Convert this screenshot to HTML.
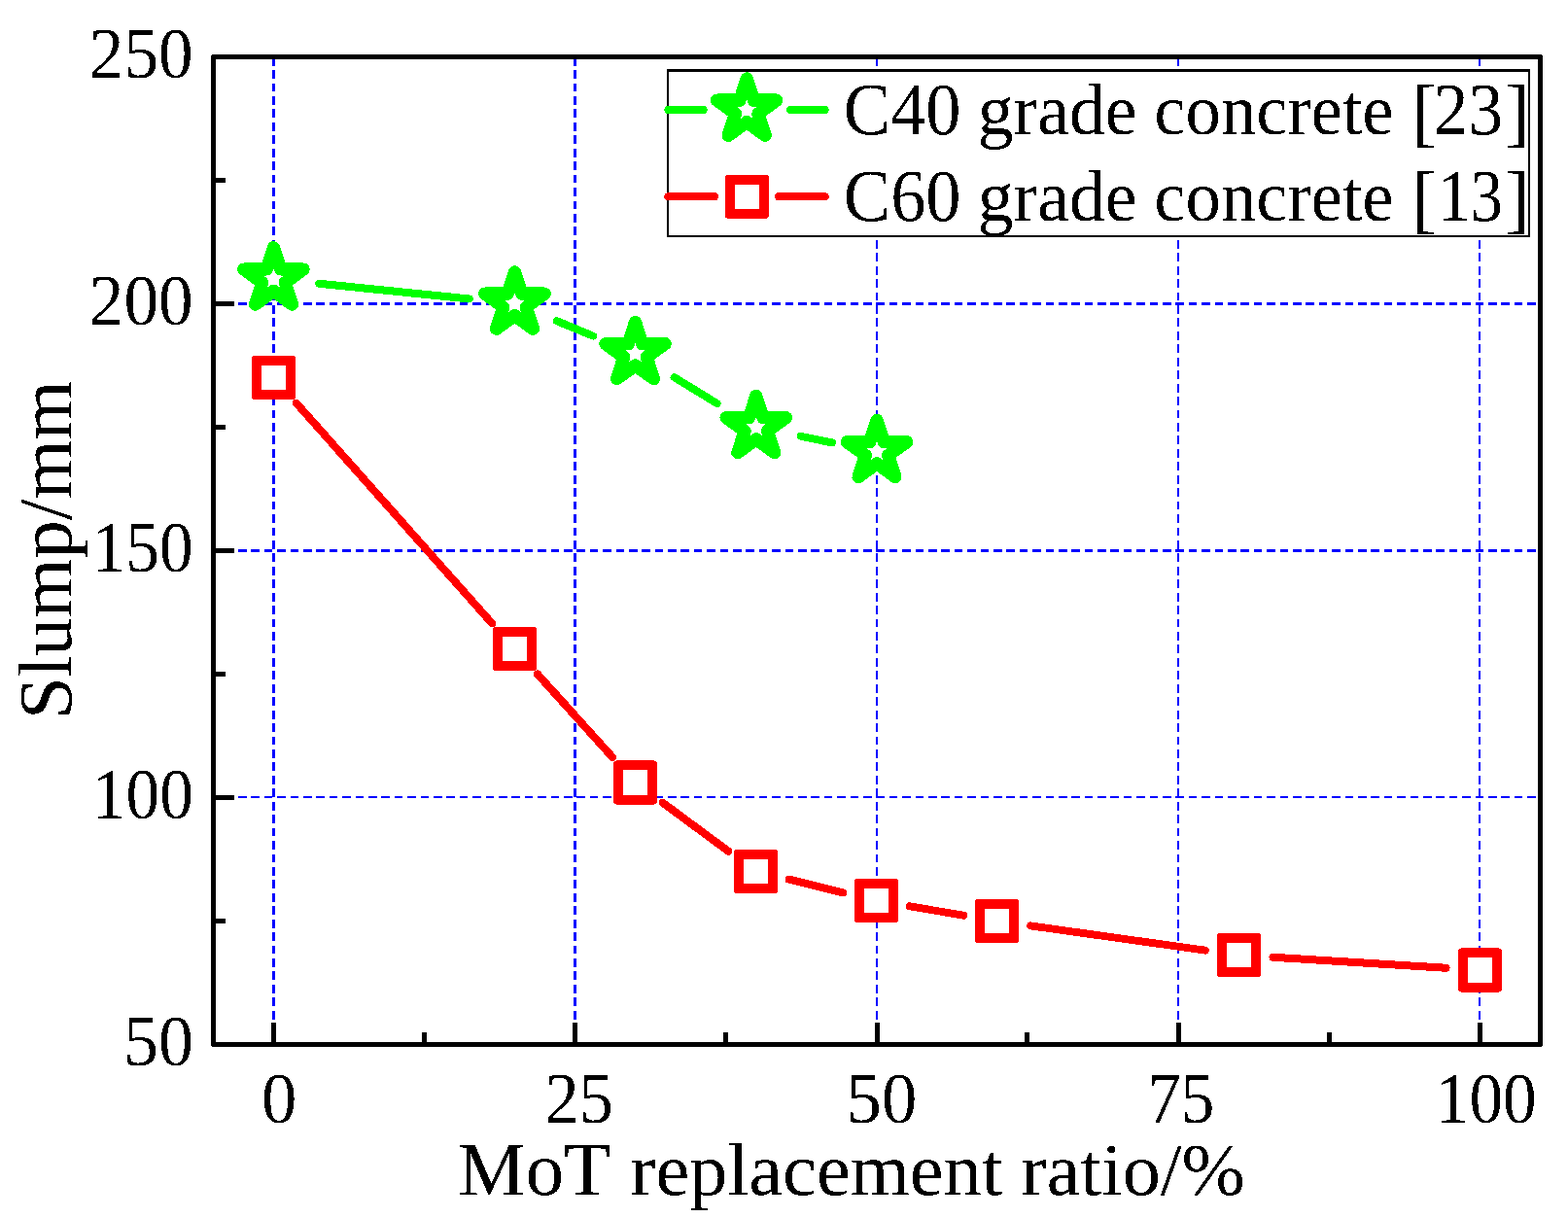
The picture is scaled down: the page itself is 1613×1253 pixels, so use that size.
<!DOCTYPE html><html><head><meta charset="utf-8"><title>Slump vs MoT replacement ratio</title><style>html,body{margin:0;padding:0;background:#fff;overflow:hidden;}svg{display:block;}text{font-family:"Liberation Serif","Times New Roman",serif;fill:#000;}</style></head><body>
<svg width="1613" height="1253" viewBox="0 0 1613 1253">
<defs><filter id="bin" filterUnits="userSpaceOnUse" x="0" y="0" width="1613" height="1253" color-interpolation-filters="sRGB"><feComponentTransfer><feFuncR type="discrete" tableValues="0 1"/><feFuncG type="discrete" tableValues="0 1"/><feFuncB type="discrete" tableValues="0 1"/></feComponentTransfer></filter></defs>
<g filter="url(#bin)">
<rect width="1613" height="1253" fill="#fff"/>
<g stroke="#0000ff" fill="none">
<line x1="281.5" y1="58.8" x2="281.5" y2="1074.5" stroke-width="3" stroke-dasharray="8.6 4.84"/>
<line x1="591.5" y1="58.8" x2="591.5" y2="1074.5" stroke-width="3" stroke-dasharray="8.6 4.84"/>
<line x1="902" y1="58.8" x2="902" y2="1074.5" stroke-width="2" stroke-dasharray="8.6 4.84"/>
<line x1="1212" y1="58.8" x2="1212" y2="1074.5" stroke-width="2" stroke-dasharray="8.6 4.84"/>
<line x1="1522" y1="58.8" x2="1522" y2="1074.5" stroke-width="2" stroke-dasharray="8.6 4.84"/>
<line x1="218.3" y1="312.5" x2="1584.5" y2="312.5" stroke-width="3" stroke-dasharray="8.6 4.794"/>
<line x1="218.3" y1="566.5" x2="1584.5" y2="566.5" stroke-width="3" stroke-dasharray="8.6 4.794"/>
<line x1="218.3" y1="820" x2="1584.5" y2="820" stroke-width="2" stroke-dasharray="8.6 4.794"/>
</g>
<g stroke="#ff0000" stroke-width="8" stroke-linecap="round"><line x1="304.75" y1="414.66" x2="506.25" y2="641.34"/><line x1="552.94" y1="693.49" x2="630.06" y2="779.01"/><line x1="681.66" y1="825.78" x2="749.34" y2="875.72"/><line x1="811.52" y1="904.73" x2="867.48" y2="918.27"/><line x1="936.01" y1="932.34" x2="990.99" y2="941.66"/><line x1="1060.16" y1="952.37" x2="1239.84" y2="977.63"/><line x1="1309.43" y1="984.68" x2="1487.57" y2="995.82"/></g>
<g stroke="#00ff00" stroke-width="8" stroke-linecap="round"><line x1="328.26" y1="291.75" x2="482.74" y2="307.45"/><line x1="572.92" y1="330.20" x2="610.08" y2="345.60"/><line x1="693.60" y1="388.12" x2="737.70" y2="415.08"/><line x1="823.88" y1="448.87" x2="855.92" y2="455.33"/></g>
<rect x="259.00" y="366.00" width="45" height="45" rx="3" fill="#ff0000"/><rect x="269.00" y="376.00" width="25" height="25" fill="#fff"/>
<rect x="507.00" y="645.00" width="45" height="45" rx="3" fill="#ff0000"/><rect x="517.00" y="655.00" width="25" height="25" fill="#fff"/>
<rect x="631.00" y="782.50" width="45" height="45" rx="3" fill="#ff0000"/><rect x="641.00" y="792.50" width="25" height="25" fill="#fff"/>
<rect x="755.00" y="874.00" width="45" height="45" rx="3" fill="#ff0000"/><rect x="765.00" y="884.00" width="25" height="25" fill="#fff"/>
<rect x="879.00" y="904.00" width="45" height="45" rx="3" fill="#ff0000"/><rect x="889.00" y="914.00" width="25" height="25" fill="#fff"/>
<rect x="1003.00" y="925.00" width="45" height="45" rx="3" fill="#ff0000"/><rect x="1013.00" y="935.00" width="25" height="25" fill="#fff"/>
<rect x="1252.00" y="960.00" width="45" height="45" rx="3" fill="#ff0000"/><rect x="1262.00" y="970.00" width="25" height="25" fill="#fff"/>
<rect x="1500.00" y="975.50" width="45" height="45" rx="3" fill="#ff0000"/><rect x="1510.00" y="985.50" width="25" height="25" fill="#fff"/>
<polygon points="281.50,254.70 288.75,277.02 312.22,277.02 293.23,290.81 300.49,313.13 281.50,299.34 262.51,313.13 269.77,290.81 250.78,277.02 274.25,277.02" fill="#fff" stroke="#00ff00" stroke-width="13.2" stroke-linejoin="round"/>
<polygon points="529.50,279.90 536.75,302.22 560.22,302.22 541.23,316.01 548.49,338.33 529.50,324.54 510.51,338.33 517.77,316.01 498.78,302.22 522.25,302.22" fill="#fff" stroke="#00ff00" stroke-width="13.2" stroke-linejoin="round"/>
<polygon points="653.50,331.30 660.75,353.62 684.22,353.62 665.23,367.41 672.49,389.73 653.50,375.94 634.51,389.73 641.77,367.41 622.78,353.62 646.25,353.62" fill="#fff" stroke="#00ff00" stroke-width="13.2" stroke-linejoin="round"/>
<polygon points="777.80,407.30 785.05,429.62 808.52,429.62 789.53,443.41 796.79,465.73 777.80,451.94 758.81,465.73 766.07,443.41 747.08,429.62 770.55,429.62" fill="#fff" stroke="#00ff00" stroke-width="13.2" stroke-linejoin="round"/>
<polygon points="902.00,432.30 909.25,454.62 932.72,454.62 913.73,468.41 920.99,490.73 902.00,476.94 883.01,490.73 890.27,468.41 871.28,454.62 894.75,454.62" fill="#fff" stroke="#00ff00" stroke-width="13.2" stroke-linejoin="round"/>
<rect x="219.5" y="58.5" width="1365" height="1016" fill="none" stroke="#000" stroke-width="5" stroke-linejoin="round"/>
<g stroke="#000" stroke-width="5">
<line x1="281.5" y1="1074.5" x2="281.5" y2="1052"/>
<line x1="591.5" y1="1074.5" x2="591.5" y2="1052"/>
<line x1="902.5" y1="1074.5" x2="902.5" y2="1052"/>
<line x1="1212.5" y1="1074.5" x2="1212.5" y2="1052"/>
<line x1="1522.5" y1="1074.5" x2="1522.5" y2="1052"/>
<line x1="436.5" y1="1074.5" x2="436.5" y2="1062"/>
<line x1="746.5" y1="1074.5" x2="746.5" y2="1062"/>
<line x1="1056.5" y1="1074.5" x2="1056.5" y2="1062"/>
<line x1="1367.5" y1="1074.5" x2="1367.5" y2="1062"/>
<line x1="219.5" y1="58.5" x2="241.3" y2="58.5"/>
<line x1="219.5" y1="312.5" x2="241.3" y2="312.5"/>
<line x1="219.5" y1="566.5" x2="241.3" y2="566.5"/>
<line x1="219.5" y1="820.5" x2="241.3" y2="820.5"/>
<line x1="219.5" y1="1074.5" x2="241.3" y2="1074.5"/>
<line x1="219.5" y1="947.5" x2="232" y2="947.5"/>
<line x1="219.5" y1="693.5" x2="232" y2="693.5"/>
<line x1="219.5" y1="439.5" x2="232" y2="439.5"/>
<line x1="219.5" y1="185.5" x2="232" y2="185.5"/>
</g>
<text transform="translate(91.76 79.80) scale(0.9912 1.0400)" font-size="72">250</text>
<text transform="translate(91.76 333.80) scale(0.9912 1.0400)" font-size="72">200</text>
<text transform="translate(94.70 587.80) scale(0.9633 1.0400)" font-size="72">150</text>
<text transform="translate(94.91 841.80) scale(0.9623 1.0400)" font-size="72">100</text>
<text transform="translate(126.91 1095.80) scale(1.0004 1.0400)" font-size="72">50</text>
<text transform="translate(269.03 1155.30) scale(1.0093 1.0400)" font-size="72">0</text>
<text transform="translate(560.61 1155.30) scale(0.9769 1.0400)" font-size="72">25</text>
<text transform="translate(870.58 1155.30) scale(1.0096 1.0400)" font-size="72">50</text>
<text transform="translate(1180.23 1155.30) scale(0.9621 1.0400)" font-size="72">75</text>
<text transform="translate(1476.81 1155.30) scale(0.9623 1.0400)" font-size="72">100</text>
<text transform="translate(470.73 1228.80) scale(0.7869 0.7758)" font-size="100">MoT</text>
<text transform="translate(648.33 1228.80) scale(0.7844 0.7619)" font-size="100">replacement</text>
<text transform="translate(1050.33 1228.80) scale(0.7833 0.7598)" font-size="100">ratio/%</text>
<text transform="translate(73 740.04) rotate(-90) scale(1.0050 1)" font-size="78">Slump/mm</text>
<rect x="686" y="71" width="888" height="173" fill="#fff"/><path d="M686 71H1574V74H686ZM686 242H1574V244H686ZM686 71H688V244H686ZM1572 71H1574V244H1572Z" fill="#000"/>
<g stroke-width="8" stroke-linecap="round"><line x1="687.3" y1="113" x2="723.6" y2="113" stroke="#00ff00"/><line x1="813.2" y1="113" x2="848.7" y2="113" stroke="#00ff00"/>
<line x1="687.3" y1="202.3" x2="735" y2="202.3" stroke="#ff0000"/><line x1="801" y1="202.3" x2="848.7" y2="202.3" stroke="#ff0000"/></g>
<polygon points="768.20,80.90 775.45,103.22 798.92,103.22 779.93,117.01 787.19,139.33 768.20,125.54 749.21,139.33 756.47,117.01 737.48,103.22 760.95,103.22" fill="#fff" stroke="#00ff00" stroke-width="13.2" stroke-linejoin="round"/>
<rect x="745.80" y="179.80" width="45" height="45" rx="3" fill="#ff0000"/><rect x="755.80" y="189.80" width="25" height="25" fill="#fff"/>
<text transform="translate(867.83 138.20) scale(0.7242 0.7548)" font-size="100">C40</text>
<text transform="translate(1005.73 138.30) scale(0.7377 0.7422)" font-size="100">grade</text>
<text transform="translate(1187.23 138.30) scale(0.7276 0.7301)" font-size="100">concrete</text>
<text transform="translate(1452.00 141.65) scale(0.7815 0.7733)" font-size="100">[</text>
<text transform="translate(1474.77 137.80) scale(0.7132 0.7521)" font-size="100">23</text>
<text transform="translate(1548.36 141.65) scale(0.7590 0.7733)" font-size="100">]</text>
<text transform="translate(867.83 227.20) scale(0.7242 0.7548)" font-size="100">C60</text>
<text transform="translate(1005.73 227.30) scale(0.7377 0.7422)" font-size="100">grade</text>
<text transform="translate(1187.23 227.30) scale(0.7276 0.7301)" font-size="100">concrete</text>
<text transform="translate(1452.00 230.65) scale(0.7815 0.7733)" font-size="100">[</text>
<text transform="translate(1479.13 226.80) scale(0.6678 0.7521)" font-size="100">13</text>
<text transform="translate(1548.36 230.65) scale(0.7590 0.7733)" font-size="100">]</text>
</g></svg></body></html>
